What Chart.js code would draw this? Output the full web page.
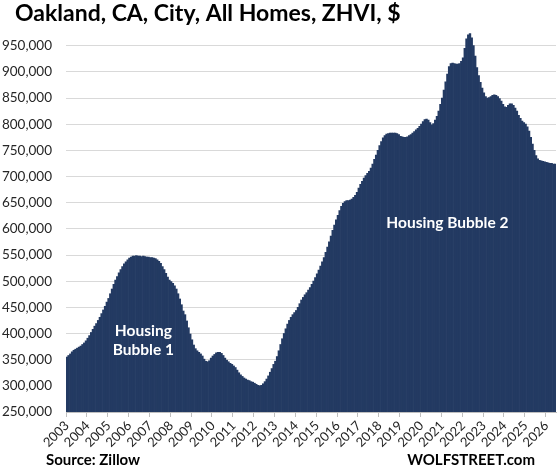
<!DOCTYPE html>
<html>
<head>
<meta charset="utf-8">
<script src="https://cdn.jsdelivr.net/npm/chart.js@4.4.1/dist/chart.umd.min.js"></script>
<style>
  html, body { margin:0; padding:0; background:#fff; }
  #wrap { width:560px; height:468px; }
</style>
</head>
<body>
<div id="wrap"><canvas id="chart" width="560" height="468"></canvas></div>
<script>
const TITLE = "Oakland, CA, City, All Homes, ZHVI, $";
const SOURCE = "Source: Zillow";
const BRAND = "WOLFSTREET.com";

const YEARS = ['2003','2004','2005','2006','2007','2008','2009','2010','2011','2012','2013','2014',
               '2015','2016','2017','2018','2019','2020','2021','2022','2023','2024','2025','2026'];

const Y_TICKS = [250000,300000,350000,400000,450000,500000,550000,600000,650000,
                 700000,750000,800000,850000,900000,950000];

// monthly ZHVI in $ thousands
const v2003 = [355,358,361,365,368,370,372,374,376,379,382,386];
const v2004 = [391,396,402,408,414,419,425,431,438,445,452,460];
const v2005 = [467,476,485,494,502,509,516,522,528,533,537,541];
const v2006 = [544,546,548,548,549,548,548,547,548,547,546,546];
const v2007 = [545,545,544,543,541,538,534,528,522,515,508,502];
const v2008 = [499,496,491,485,476,466,455,443,436,424,411,399];
const v2009 = [388,378,371,367,364,361,357,351,347,346,348,353];
const v2010 = [357,360,363,364,364,362,358,353,349,346,343,341];
const v2011 = [338,335,330,325,321,318,315,313,311,310,308,307];
const v2012 = [305,303,301,300,301,304,308,313,319,326,333,341];
const v2013 = [347,356,367,379,390,400,409,418,425,431,436,440];
const v2014 = [444,450,457,464,469,474,478,483,488,494,500,507];
const v2015 = [514,521,529,537,545,555,565,575,586,597,607,617];
const v2016 = [626,635,643,649,652,654,654,655,657,660,664,670];
const v2017 = [678,685,691,697,702,706,710,716,724,733,741,750];
const v2018 = [759,767,774,778,781,782,783,783,783,783,782,780];
const v2019 = [777,776,775,775,776,778,780,783,786,789,792,796];
const v2020 = [800,805,809,810,808,803,799,801,808,815,825,838];
const v2021 = [850,865,881,896,910,916,917,916,915,915,916,920];
const v2022 = [927,945,963,971,973,965,950,930,908,893,880,869];
const v2023 = [860,853,850,851,853,855,856,855,853,849,844,838];
const v2024 = [833,832,836,839,839,836,831,825,817,811,806,803];
const v2025 = [800,795,787,775,762,750,740,734,731,730,729,728];
const v2026 = [727,726,725,725,724,724];

const ZHVI = [].concat(v2003,v2004,v2005,v2006,v2007,v2008,v2009,v2010,v2011,v2012,v2013,v2014,
                       v2015,v2016,v2017,v2018,v2019,v2020,v2021,v2022,v2023,v2024,v2025,v2026)
               .map(v => v * 1000);

const MONTHS = [];
YEARS.forEach(y => { for (let m = 1; m <= 12; m++) MONTHS.push(y + '-' + m); });
MONTHS.length = ZHVI.length;

// text inside the bars: month index + value where it sits
const NOTES = [
  { text: 'Housing',          at: 44,  value: 405000 },
  { text: 'Bubble 1',         at: 44,  value: 369000 },
  { text: 'Housing Bubble 2', at: 219, value: 612000 }
];

const FONT = 'Lato, "Open Sans", sans-serif';

const overlay = {
  id: 'overlay',
  afterDatasetsDraw(chart){
    const { ctx, scales: { x, y } } = chart;
    ctx.save();
    ctx.fillStyle = '#fff';
    ctx.font = 'bold 15.5px ' + FONT;
    ctx.textAlign = 'center';
    ctx.textBaseline = 'middle';
    NOTES.forEach(n => ctx.fillText(n.text, x.getPixelForValue(n.at), y.getPixelForValue(n.value)));
    ctx.restore();
  },
  afterDraw(chart){
    const ctx = chart.ctx;
    ctx.save();
    ctx.fillStyle = '#000';
    ctx.textBaseline = 'alphabetic';
    ctx.font = 'bold 23px ' + FONT;
    ctx.fillText(TITLE, 15, 21);
    ctx.font = 'bold 15px ' + FONT;
    ctx.fillText(SOURCE, 46, 465);
    ctx.textAlign = 'right';
    ctx.fillText(BRAND, 535, 465);
    ctx.restore();
  }
};

new Chart(document.getElementById('chart').getContext('2d'), {
  type: 'bar',
  data: {
    labels: MONTHS,
    datasets: [{
      data: ZHVI,
      backgroundColor: '#233a62',
      borderWidth: 0,
      barPercentage: 1,
      categoryPercentage: 1
    }]
  },
  options: {
    responsive: false,
    animation: false,
    events: [],
    layout: { padding: { top: 30, right: 4, left: 0, bottom: 0 } },
    plugins: { legend: { display: false }, tooltip: { enabled: false }, title: { display: false } },
    scales: {
      x: {
        grid: {
          offset: true,
          drawOnChartArea: false,
          tickLength: 5,
          color: c => (c.index % 12 === 0 && c.index < ZHVI.length) ? '#bfbfbf' : 'rgba(0,0,0,0)'
        },
        border: { color: '#bfbfbf' },
        ticks: {
          autoSkip: false,
          maxRotation: 45,
          minRotation: 45,
          padding: 1,
          color: '#262626',
          font: { family: FONT, size: 13 },
          callback: (v, i) => i % 12 === 0 ? YEARS[i / 12] : ''
        },
        afterFit(s){ s.height = 56; s.paddingLeft = 0; s.paddingRight = 0; }
      },
      y: {
        min: 250000,
        max: 980000,
        ticks: {
          padding: 14,
          color: '#262626',
          font: { family: FONT, size: 13.5 },
          callback: v => v.toLocaleString('en-US')
        },
        grid: { color: '#d9d9d9', drawTicks: false },
        border: { display: false },
        afterBuildTicks(s){ s.ticks = Y_TICKS.map(v => ({ value: v })); },
        afterFit(s){ s.width = 66; }
      }
    }
  },
  plugins: [overlay]
});
</script>
</body>
</html>
